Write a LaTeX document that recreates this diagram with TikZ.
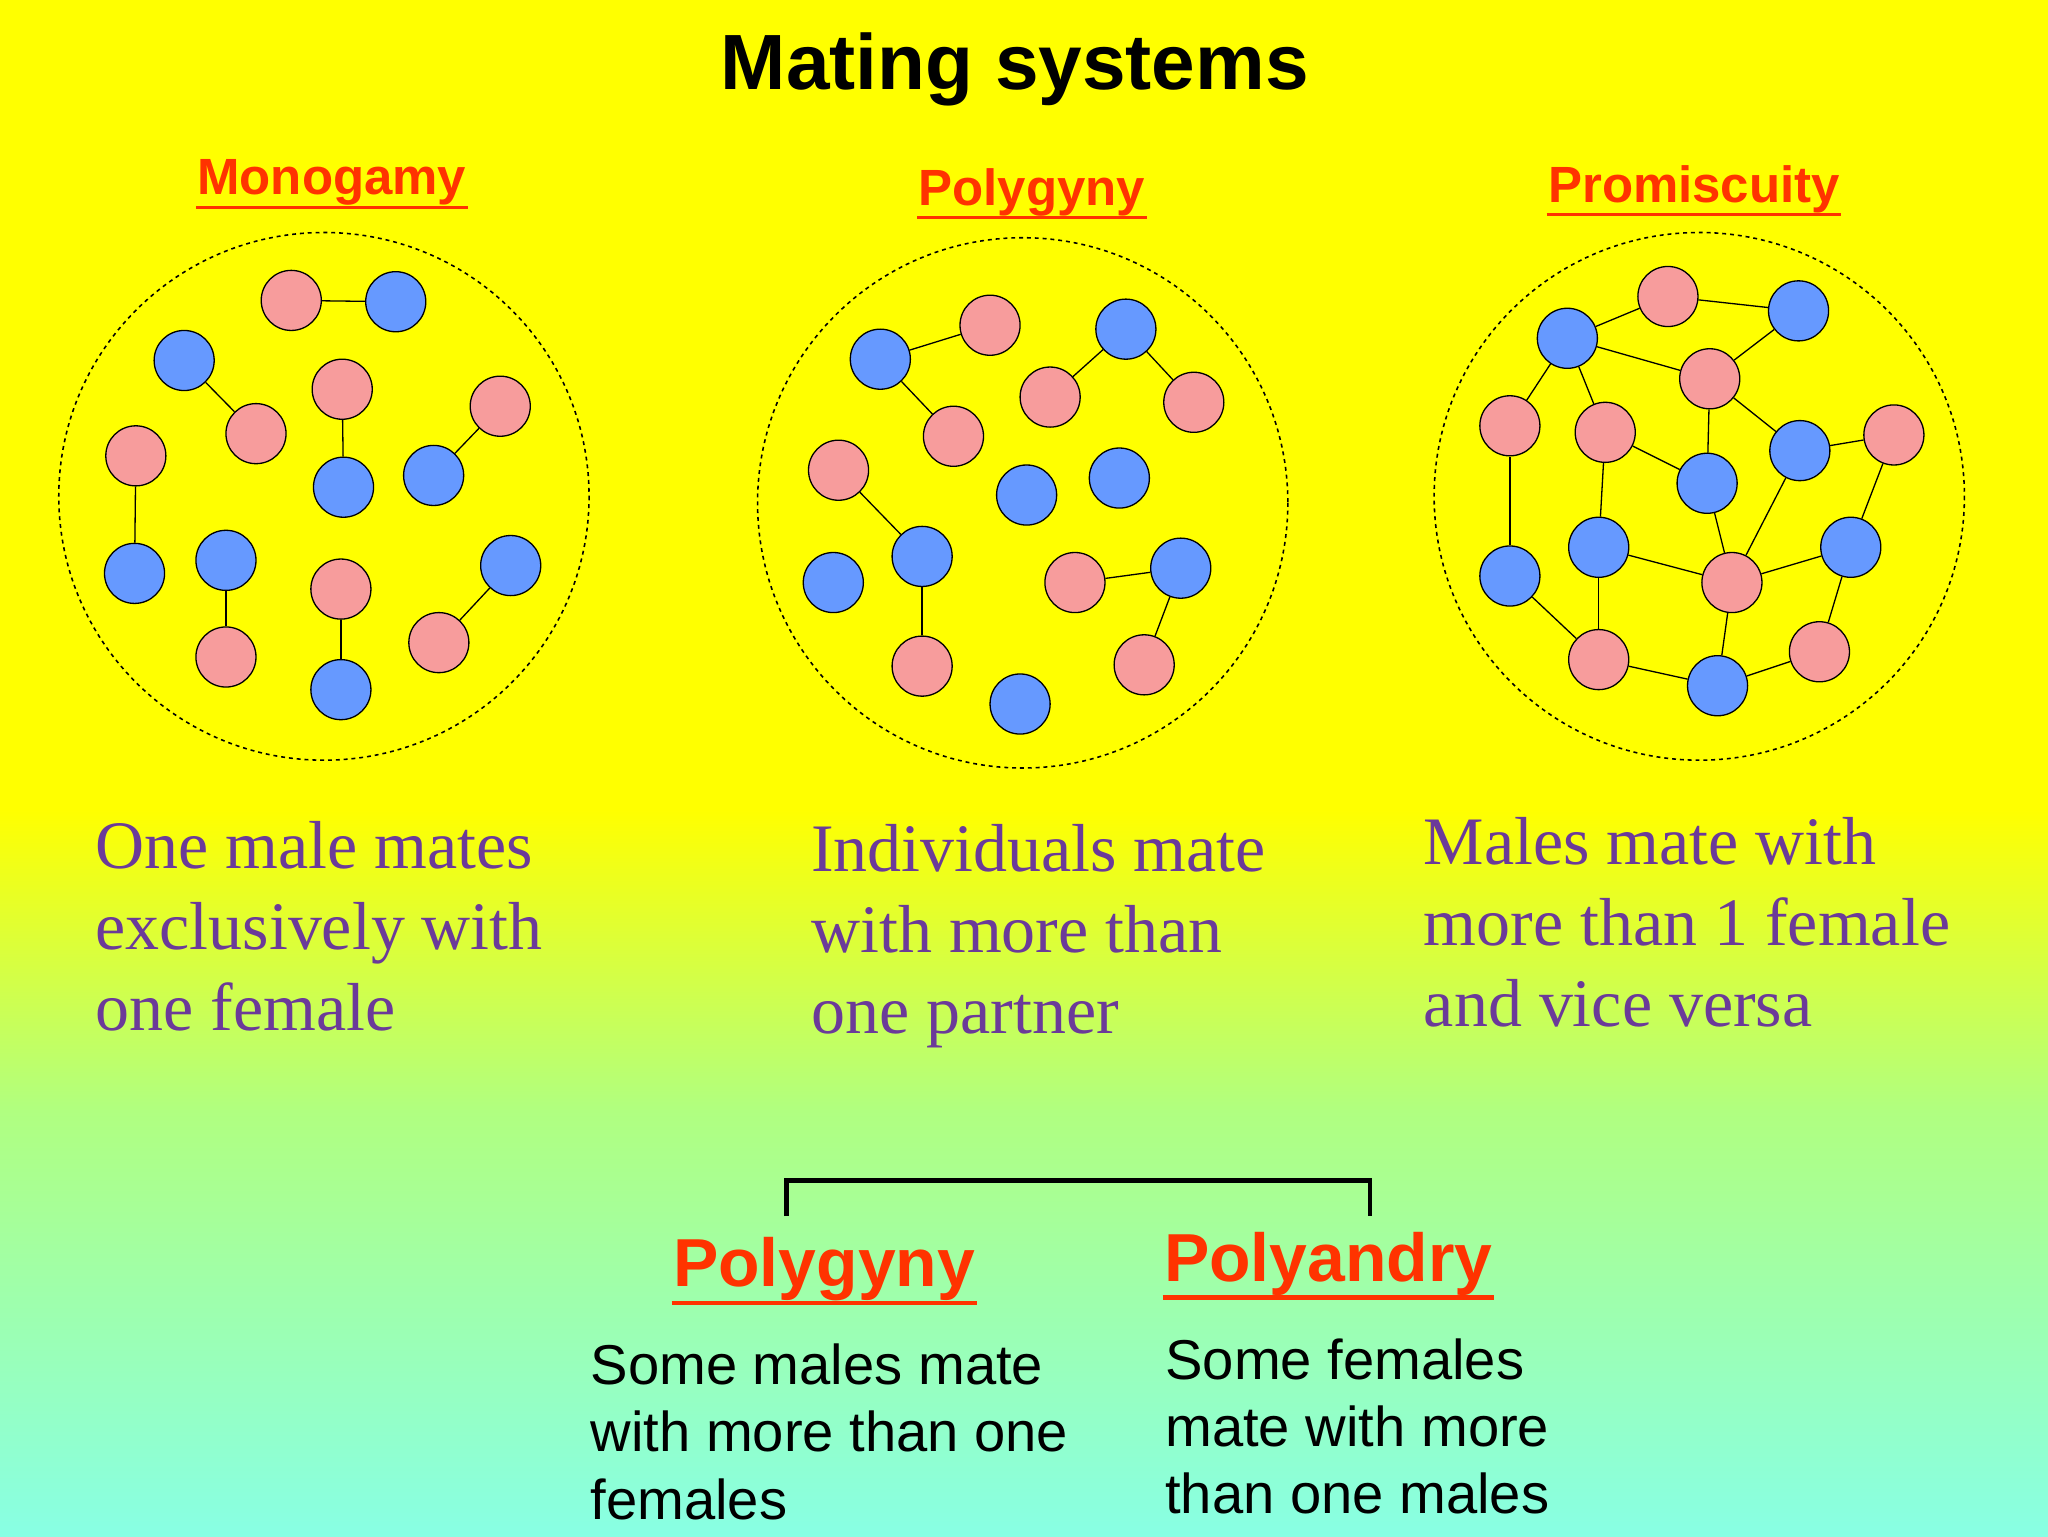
\documentclass[tikz,border=0pt]{standalone}
\usepackage{fontspec}
\setmainfont{Liberation Serif}
\setsansfont{Liberation Sans}
\begin{document}
\begin{tikzpicture}[x=1pt,y=-1pt,
  m/.style={circle,draw=black,fill=mblue,minimum size=46pt,inner sep=0pt,line width=1pt},
  f/.style={circle,draw=black,fill=fpink,minimum size=46pt,inner sep=0pt,line width=1pt},
  ring/.style={draw,dashed,line width=1.2pt},
  head/.style={font=\sffamily\bfseries\fontsize{39}{44}\selectfont,text=hred,inner sep=1pt},
  bighead/.style={font=\sffamily\bfseries\fontsize{52}{58}\selectfont,text=hred,inner sep=1pt},
  ul/.style={draw=hred,line width=2.5pt},
  desc/.style={font=\fontsize{52}{62}\selectfont,text=dpurple,align=left,anchor=base west,inner sep=0pt},
  sdesc/.style={font=\sffamily\fontsize{43}{51.5}\selectfont,align=left,anchor=base west,inner sep=0pt},
  ln/.style={line width=1pt}]
\definecolor{mblue}{HTML}{6699FF}
\definecolor{fpink}{HTML}{F79C9C}
\definecolor{hred}{HTML}{FF3300}
\definecolor{dpurple}{HTML}{6B3A99}
\definecolor{bgy}{HTML}{FFFF00}
\definecolor{bgg}{HTML}{B0FF80}
\definecolor{bgc}{HTML}{88FFE4}
\useasboundingbox (0,0) rectangle (1568,1176);
\fill[bgy] (0,0) rectangle (1568,621);
\shade[top color=bgy,bottom color=bgg] (0,620) rectangle (1568,851);
\shade[top color=bgg,bottom color=bgc] (0,850) rectangle (1568,1176);
\node[font=\sffamily\bfseries\fontsize{60}{64}\selectfont] (title) at (777,53) {Mating systems};
% headings
\node[head] (h1) at (254,140) {Monogamy};
\node[head] (h2) at (790,147) {Polygyny};
\node[head] (h3) at (1297,145) {Promiscuity};
\foreach \h in {h1,h2,h3} \draw[ul] (\h.south west) -- (\h.south east);
\draw[ring] (248,380) ellipse (203 and 202);
\draw[ring] (783,385) ellipse (203 and 203);
\draw[ring] (1301,380) ellipse (203 and 202);
% monogamy
\node[f] (a1) at (223,230) {}; \node[m] (a2) at (303,231) {};
\node[m] (a3) at (141,276) {}; \node[f] (a4) at (196,332) {};
\node[f] (a5) at (262,298) {}; \node[m] (a6) at (263,373) {};
\node[f] (a7) at (383,311) {}; \node[m] (a8) at (332,364) {};
\node[f] (a9) at (104,349) {}; \node[m] (a10) at (103,439) {};
\node[m] (a11) at (173,429) {}; \node[f] (a12) at (173,503) {};
\node[f] (a13) at (261,451) {}; \node[m] (a14) at (261,528) {};
\node[m] (a15) at (391,433) {}; \node[f] (a16) at (336,492) {};
\foreach \u/\v in {a1/a2,a3/a4,a5/a6,a7/a8,a9/a10,a11/a12,a13/a14,a15/a16} \draw[ln] (\u)--(\v);
% polygyny
\node[m] (b1) at (674,275) {}; \node[f] (b2) at (758,249) {}; \node[f] (b3) at (730,334) {};
\node[m] (b4) at (862,252) {}; \node[f] (b5) at (804,304) {}; \node[f] (b6) at (914,308) {};
\node[f] (b7) at (642,360) {}; \node[m] (b8) at (706,426) {}; \node[f] (b9) at (706,510) {};
\node[m] (b10) at (786,379) {}; \node[m] (b11) at (857,366) {}; \node[m] (b12) at (638,446) {}; \node[m] (b13) at (781,539) {};
\node[f] (b14) at (823,446) {}; \node[m] (b15) at (904,435) {}; \node[f] (b16) at (876,509) {};
\foreach \u/\v in {b1/b2,b1/b3,b4/b5,b4/b6,b7/b8,b8/b9,b14/b15,b15/b16} \draw[ln] (\u)--(\v);
% promiscuity
\node[m] (A) at (1200,259) {}; \node[f] (B) at (1277,227) {}; \node[m] (C) at (1377,238) {};
\node[f] (D) at (1309,290) {}; \node[f] (E) at (1156,326) {}; \node[f] (F) at (1229,331) {};
\node[m] (G) at (1378,345) {}; \node[f] (H) at (1450,333) {}; \node[m] (I) at (1307,370) {};
\node[m] (J) at (1156,441) {}; \node[m] (K) at (1224,419) {}; \node[f] (L) at (1326,446) {};
\node[m] (M) at (1417,419) {}; \node[f] (N) at (1224,505) {}; \node[m] (O) at (1315,525) {};
\node[f] (P) at (1393,499) {};
\foreach \u/\v in {A/B,B/C,A/D,C/D,A/E,A/F,D/G,D/I,F/I,G/H,G/L,I/L,E/J,F/K,K/L,L/M,H/M,J/N,K/N,N/O,O/L,O/P,P/M} \draw[ln] (\u)--(\v);
% descriptions (anchor at last line's baseline)
\node[desc] (d1) at (73,789) {One male mates\\exclusively with\\one female};
\node[desc] (d2) at (621,791) {Individuals mate\\with more than\\one partner};
\node[desc] (d3) at (1090,786) {Males mate with\\more than 1 female\\and vice versa};
% bracket
\coordinate (k1) at (602,931); \coordinate (k2) at (1049,931);
\draw[line width=3.5pt] (k1) |- (826,904) -| (k2);
\node[bighead] (p1) at (631,972) {Polygyny};
\node[bighead] (p2) at (1017,968) {Polyandry};
\foreach \h in {p1,p2} \draw[ul,line width=3.5pt] (\h.south west) -- (\h.south east);
\node[sdesc] (s1) at (452,1163) {Some males mate\\with more than one\\females};
\node[sdesc] (s2) at (892,1159) {Some females\\mate with more\\than one males};
\end{tikzpicture}
\end{document}
